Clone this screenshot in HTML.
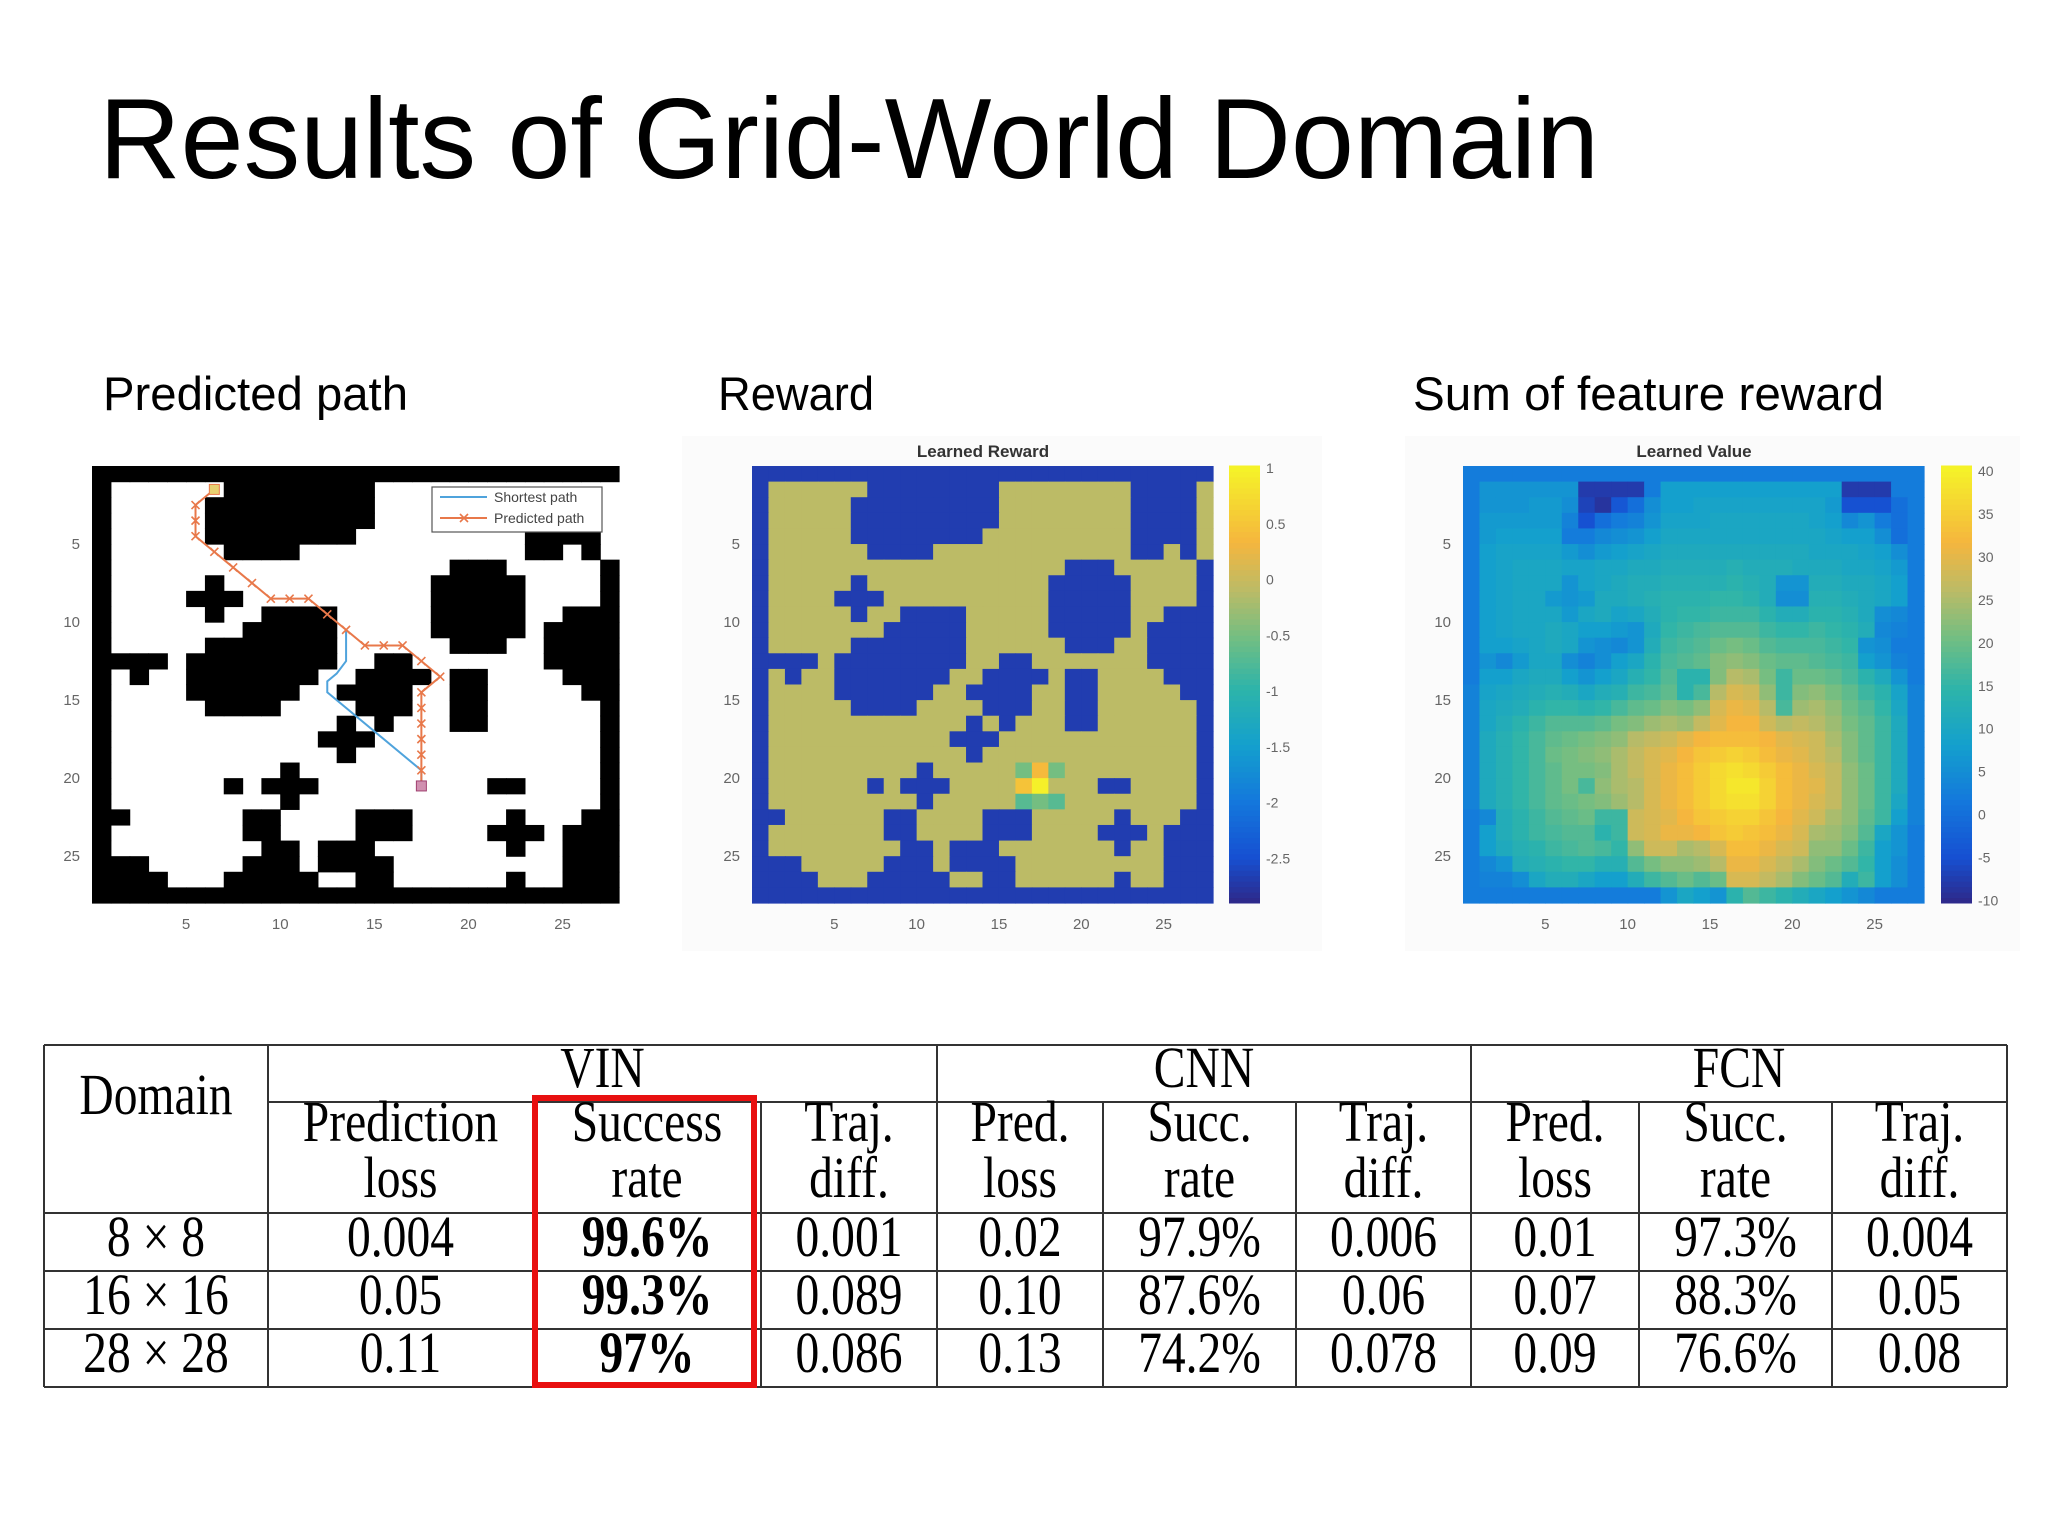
<!DOCTYPE html>
<html><head><meta charset="utf-8"><style>
html,body{margin:0;padding:0;background:#fff;}
svg{display:block;}
</style></head><body>
<svg id="root" width="2048" height="1536" viewBox="0 0 2048 1536" xmlns="http://www.w3.org/2000/svg">
<rect x="0" y="0" width="2048" height="1536" fill="#fff"/>
<text x="99" y="178" font-family="Liberation Sans, sans-serif" font-size="114" fill="#000" textLength="1500" lengthAdjust="spacingAndGlyphs">Results of Grid-World Domain</text>
<text x="103" y="410" font-family="Liberation Sans, sans-serif" font-size="47" fill="#000" textLength="305" lengthAdjust="spacingAndGlyphs">Predicted path</text>
<text x="718" y="410" font-family="Liberation Sans, sans-serif" font-size="47" fill="#000" textLength="156" lengthAdjust="spacingAndGlyphs">Reward</text>
<text x="1413" y="410" font-family="Liberation Sans, sans-serif" font-size="47" fill="#000" textLength="471" lengthAdjust="spacingAndGlyphs">Sum of feature reward</text>
<rect x="682" y="436" width="640" height="515" fill="#fbfbfb"/>
<rect x="1405" y="436" width="615" height="515" fill="#fbfbfb"/>
<g id="plots"></g>
<g id="table"></g>
</svg>
<script>
// ---- data ----
const obstacleMap = [
"############################",
"#......########.............",
"#.....#########.............",
"#.....#########.............",
"#.....########.........####.",
"#......####............##.#.",
"#..................###.....#",
"#.....#...........#####....#",
"#....###..........#####....#",
"#.....#..####.....#####..###",
"#.......#####.....#####.####",
"#.....#######......###..####",
"####.########..##.......####",
"#.#..#######..####.##....###",
"#....######..####..##.....##",
"#.....####....###..##......#",
"#............#.#...##......#",
"#...........###............#",
"#............#.............#",
"#.........#................#",
"#......#.###.........##....#",
"#.........#................#",
"##......##....###.....#...##",
"#.......##....###....###.###",
"#........##.###.......#..###",
"###.....###.####.........###",
"####...#####..##......#..###",
"############################"];
const rewardExtraObstacles = [[24,2],[25,2],[26,2],[27,2],[24,3],[25,3],[26,3],[27,3],[24,4],[25,4],[26,4],[27,4]];
const rewardSpots = [[18,21,1.0],[17,21,0.5],[18,20,0.4],[17,20,-0.5],[19,20,-0.5],[17,22,-0.7],[18,22,-0.5],[19,22,-0.7]];
const rewardObstacleValue = -2.7;
const rewardFreeValue = 0.0;
const predictedCols = [7,6,6,6,7,8,9,10,11,12,13,14,15,16,17,18,19,18,18,18,18,18,18,18,18];
const predictedRows = [2,3,4,5,6,7,8,9,9,9,10,11,12,12,12,13,14,15,16,17,18,19,20,21,21];
const shortestCols = [14,14,13.5,13,13,18,18];
const shortestRows = [11,13,13.8,14.3,15,20,21];
const axisTicks = [5,10,15,20,25];
const rewardTicks = [1,0.5,0,-0.5,-1,-1.5,-2,-2.5];
const valueTicks = [40,35,30,25,20,15,10,5,0,-5,-10];
const valueRows = [
"2 2 2 2 2 2 2 2 2 2 2 2 2 2 2 2 2 2 2 2 2 2 2 2 2 2 2 2",
"2 6 6 6 6 6 6 -8 -8 -8 -8 2 8 8 8 8 8 8 8 8 8 8 8 -8 -8 -8 2 2",
"2 6 6 6 7 7 5 -7 -9 -4 0 5 8 8 9 9 9 9 9 9 9 9 7 -5 -5 -5 0 2",
"2 7 7 7 7 7 3 -5 0 2 3 6 9 9 9 10 10 10 10 10 10 9 8 4 6 2 0 2",
"2 7 8 8 8 8 2 2 4 5 6 8 10 10 10 10 10 10 10 10 10 10 9 8 8 5 0 2",
"2 8 9 9 9 9 7 5 7 8 9 10 11 11 11 11 11 11 11 11 11 10 10 10 9 8 5 2",
"2 8 9 10 10 10 9 9 10 10 11 11 12 12 12 12 13 12 12 12 11 11 11 10 10 9 7 2",
"2 8 9 10 10 10 6 9 10 11 12 12 13 13 13 13 14 13 12 6 6 12 12 11 11 10 8 2",
"2 8 9 10 10 7 6 7 11 11 12 13 14 14 14 15 15 14 12 5 5 13 13 12 11 10 8 2",
"2 8 9 10 10 10 7 10 11 9 10 12 14 15 15 16 16 16 14 12 12 14 14 13 11 5 4 2",
"2 8 9 10 10 11 10 8 8 7 6 11 15 16 17 18 18 18 16 15 15 16 15 14 12 4 3 2",
"2 8 8 9 10 11 10 6 5 4 6 12 16 17 18 20 21 20 18 17 17 17 16 15 6 5 2 2",
"2 6 4 7 10 10 5 3 5 8 10 14 17 18 19 22 23 22 20 19 19 18 17 16 8 6 3 2",
"2 8 8 10 11 11 8 6 8 10 13 15 18 14 14 22 26 25 21 16 20 20 19 17 14 11 6 2",
"3 9 10 11 12 13 12 10 12 13 16 17 19 14 17 26 29 28 23 16 22 23 21 19 16 14 9 3",
"3 10 11 12 14 15 15 14 15 17 19 20 22 21 23 29 31 30 26 17 24 25 23 20 18 15 10 3",
"3 10 12 14 16 18 18 18 19 21 22 24 25 24 27 30 32 32 28 26 27 26 24 21 19 16 11 3",
"3 11 13 15 17 19 20 21 22 23 26 27 28 30 32 33 33 33 32 30 29 28 25 22 19 16 11 3",
"3 11 13 15 17 20 21 22 23 25 27 29 30 32 34 35 36 35 33 31 30 28 26 22 19 16 11 3",
"3 11 13 15 17 19 21 21 22 25 27 29 31 33 35 37 38 37 35 33 31 29 27 23 20 16 11 3",
"3 11 13 15 17 19 21 17 23 25 26 29 31 33 35 37 39 39 36 33 31 30 27 23 20 16 11 3",
"3 11 13 15 17 19 20 21 22 24 26 29 31 33 35 37 38 38 36 33 31 29 27 23 20 16 10 3",
"2 4 12 14 16 18 19 20 16 16 28 29 30 32 34 35 36 36 34 32 30 28 25 23 19 16 8 3",
"2 8 12 14 16 17 18 18 14 16 28 29 31 31 32 34 35 34 33 31 29 25 24 22 18 10 6 2",
"2 8 11 13 14 16 17 18 17 15 23 28 28 25 26 29 33 33 31 29 28 23 23 20 16 8 6 2",
"2 4 6 12 13 14 15 15 13 13 18 21 23 23 24 26 31 31 29 27 25 22 20 18 15 8 5 2",
"2 3 3 5 10 12 12 10 8 8 12 16 18 20 18 20 29 29 27 25 22 20 18 12 16 8 5 2",
"2 2 2 2 2 2 2 2 2 2 2 2 6 10 8 6 14 18 16 14 12 10 8 6 4 2 2 2"];
const headerGroups = ["VIN","CNN","FCN"];
const headerTop = ["Prediction","Success","Traj.","Pred.","Succ.","Traj.","Pred.","Succ.","Traj."];
const headerBottom = ["loss","rate","diff.","loss","rate","diff.","loss","rate","diff."];
const domains = ["8 × 8","16 × 16","28 × 28"];
const tableRows = [
["0.004","99.6%","0.001","0.02","97.9%","0.006","0.01","97.3%","0.004"],
["0.05","99.3%","0.089","0.10","87.6%","0.06","0.07","88.3%","0.05"],
["0.11","97%","0.086","0.13","74.2%","0.078","0.09","76.6%","0.08"]];

// ---- helpers ----
const NS="http://www.w3.org/2000/svg";
function mk(tag, attrs, parent){const e=document.createElementNS(NS,tag);for(const k in attrs)e.setAttribute(k,attrs[k]);parent.appendChild(e);return e;}
const anchors=[[0,[45,42,140]],[0.1,[22,80,210]],[0.23,[20,120,220]],[0.36,[20,160,205]],[0.49,[45,180,170]],[0.61,[115,190,130]],[0.72,[188,187,102]],[0.83,[245,182,62]],[1,[245,242,40]]];
function parula(t){t=Math.max(0,Math.min(1,t));for(let i=1;i<anchors.length;i++){if(t<=anchors[i][0]){const a=anchors[i-1],b=anchors[i];const f=(t-a[0])/(b[0]-a[0]);const c=a[1].map((v,j)=>Math.round(v+(b[1][j]-v)*f));return `rgb(${c[0]},${c[1]},${c[2]})`;}}return 'rgb(245,242,40)';}
function axes(x0,x1,y0,y1){return {sx:c=>x0+(c-0.5)*(x1-x0)/28, sy:r=>y0+(r-0.5)*(y1-y0)/28, cw:(x1-x0)/28, ch:(y1-y0)/28, x0,x1,y0,y1};}
const plots=document.getElementById('plots');

function ticks(ax,g){
  axisTicks.forEach(v=>{
    const t=mk('text',{x:ax.x0-12,y:ax.sy(v+0.5)+5,'font-family':'Liberation Sans, sans-serif','font-size':15,fill:'#666','text-anchor':'end'},g);
    t.textContent=v;
    
    
    const u=mk('text',{x:ax.sx(v+0.5),y:ax.y1+26,'font-family':'Liberation Sans, sans-serif','font-size':15,fill:'#666','text-anchor':'middle'},g);
    u.textContent=v;
    
    
  });
}

// ---- plot 1 : predicted path ----
(function(){
  const ax=axes(92,619,466,903);
  const g=mk('g',{},plots);
  
  
  mk('rect',{x:ax.x0,y:ax.y0,width:ax.x1-ax.x0,height:ax.y1-ax.y0,fill:'#fff'},g);
  obstacleMap.forEach((row,ri)=>{for(let ci=0;ci<28;ci++){if(row[ci]==='#'){
    const r=mk('rect',{x:ax.sx(ci+1)-ax.cw/2,y:ax.sy(ri+1)-ax.ch/2,width:ax.cw+0.6,height:ax.ch+0.6,fill:'#000'},g);
    
    
  }}});
  const sp=mk('polyline',{points:shortestCols.map((c,i)=>ax.sx(c)+','+ax.sy(shortestRows[i])).join(' '),fill:'none',stroke:'#4fa3dc','stroke-width':2},g);
  
  
  const pp=mk('polyline',{points:predictedCols.map((c,i)=>ax.sx(c)+','+ax.sy(predictedRows[i])).join(' '),fill:'none',stroke:'#e8784a','stroke-width':2},g);
  
  
  predictedCols.forEach((c,i)=>{const x=ax.sx(c),y=ax.sy(predictedRows[i]);
    const m=mk('path',{d:`M${x-4},${y-4}L${x+4},${y+4}M${x-4},${y+4}L${x+4},${y-4}`,stroke:'#e8784a','stroke-width':1.6},g);
    
    
  });
  const st=mk('rect',{x:ax.sx(7)-5,y:ax.sy(2)-5,width:10,height:10,fill:'#e8d070',stroke:'#e8784a'},g);
  
  
  const en=mk('rect',{x:ax.sx(18)-5,y:ax.sy(21)-5,width:10,height:10,fill:'#d090b0',stroke:'#a04070'},g);
  
  
  const lg=mk('g',{},g);
  
  
  mk('rect',{x:432,y:487,width:170,height:45,fill:'#fff',stroke:'#555','stroke-width':1.2},lg);
  mk('line',{x1:440,y1:497,x2:487,y2:497,stroke:'#4fa3dc','stroke-width':2},lg);
  mk('line',{x1:440,y1:518,x2:487,y2:518,stroke:'#e8784a','stroke-width':2},lg);
  mk('path',{d:'M460,514L468,522M460,522L468,514',stroke:'#e8784a','stroke-width':1.6},lg);
  const l1=mk('text',{x:494,y:502,'font-family':'Liberation Sans, sans-serif','font-size':14,fill:'#444'},lg);l1.textContent='Shortest path';
  
  
  const l2=mk('text',{x:494,y:523,'font-family':'Liberation Sans, sans-serif','font-size':14,fill:'#444'},lg);l2.textContent='Predicted path';
  
  
  ticks(ax,g);
})();

// ---- plot 2 : learned reward ----
(function(){
  const ax=axes(752,1213,466,903);
  const vmin=-2.9,vmax=1.02;
  const g=mk('g',{},plots);
  
  
  const extra=new Set(rewardExtraObstacles.map(p=>p[0]+','+p[1]));
  const spots={};rewardSpots.forEach(s=>spots[s[0]+','+s[1]]=s[2]);
  obstacleMap.forEach((row,ri)=>{for(let ci=0;ci<28;ci++){
    const key=(ci+1)+','+(ri+1);
    let v=(row[ci]==='#'||extra.has(key))?rewardObstacleValue:rewardFreeValue;
    if(key in spots)v=spots[key];
    const r=mk('rect',{x:ax.sx(ci+1)-ax.cw/2,y:ax.sy(ri+1)-ax.ch/2,width:ax.cw+0.6,height:ax.ch+0.6,fill:v===rewardFreeValue?'rgb(188,187,102)':parula((v-vmin)/(vmax-vmin))},g);
    
    
  }});
  const t=mk('text',{x:983,y:457,'font-family':'Liberation Sans, sans-serif','font-size':17,'font-weight':'bold',fill:'#333','text-anchor':'middle'},g);
  t.textContent='Learned Reward';
  
  
  ticks(ax,g);
  const cb=mk('g',{},plots);
  
  
  const cy=v=>903-(v-vmin)/(vmax-vmin)*437;
  for(let i=0;i<80;i++){const v0=vmin+(vmax-vmin)*i/80;mk('rect',{x:1229,y:cy(v0+(vmax-vmin)/80)-0.5,width:31,height:437/80+1,fill:parula(i/79)},cb);}
  rewardTicks.forEach(v=>{const l=mk('text',{x:1266,y:cy(v)+5,'font-family':'Liberation Sans, sans-serif','font-size':14,fill:'#666'},cb);l.textContent=v;
    
    });
})();

// ---- plot 3 : learned value ----
(function(){
  const ax=axes(1463,1924,466,903);
  const vmin=-10.3,vmax=40.6;
  const g=mk('g',{},plots);
  
  
  valueRows.forEach((row,ri)=>{row.split(' ').map(Number).forEach((v,ci)=>{
    const r=mk('rect',{x:ax.sx(ci+1)-ax.cw/2,y:ax.sy(ri+1)-ax.ch/2,width:ax.cw+0.6,height:ax.ch+0.6,fill:parula((v-vmin)/(vmax-vmin))},g);
    
    
  });});
  const t=mk('text',{x:1694,y:457,'font-family':'Liberation Sans, sans-serif','font-size':17,'font-weight':'bold',fill:'#333','text-anchor':'middle'},g);
  t.textContent='Learned Value';
  
  
  ticks(ax,g);
  const cb=mk('g',{},plots);
  
  
  const cy=v=>903-(v-vmin)/(vmax-vmin)*437;
  for(let i=0;i<80;i++){const v0=vmin+(vmax-vmin)*i/80;mk('rect',{x:1941,y:cy(v0+(vmax-vmin)/80)-0.5,width:31,height:437/80+1,fill:parula(i/79)},cb);}
  valueTicks.forEach(v=>{const l=mk('text',{x:1978,y:cy(v)+5,'font-family':'Liberation Sans, sans-serif','font-size':14,fill:'#666'},cb);l.textContent=v;
    
    });
})();

// ---- table ----
(function(){
  const tb=document.getElementById('table');
  
  
  const cols=[44,268,533,761,937,1103,1296,1471,1639,1832,2007];
  const ln=(x1,y1,x2,y2)=>mk('line',{x1,y1,x2,y2,stroke:'#333','stroke-width':2},tb);
  ln(44,1045,2007,1045);ln(268,1102,2007,1102);
  [1213,1271,1329,1387].forEach(y=>ln(44,y,2007,y));
  ln(44,1045,44,1387);ln(268,1045,268,1387);ln(937,1045,937,1387);ln(1471,1045,1471,1387);ln(2007,1045,2007,1387);
  [533,761,1103,1296,1639,1832].forEach(x=>ln(x,1102,x,1387));
  function txt(s,cx,base,name,bold){
    const t=mk('text',{x:0,y:0,transform:`translate(${cx},${base}) scale(0.82,1)`,'font-family':'Liberation Serif, serif','font-size':58,fill:'#000','text-anchor':'middle','font-weight':bold?'bold':'normal'},tb);
    t.textContent=s;
    
    
  }
  txt('Domain',156,1114,'domain-header');
  const gx=[[268,937],[937,1471],[1471,2007]];
  headerGroups.forEach((h,i)=>txt(h,(gx[i][0]+gx[i][1])/2,1087,'group-header'));
  headerTop.forEach((h,i)=>{const cx=(cols[i+1]+cols[i+2])/2;txt(h,cx,1141,'column-header');txt(headerBottom[i],cx,1197,'column-header');});
  const bases=[1256,1314,1372];
  domains.forEach((d,r)=>{txt(d,156,bases[r],'domain-label');
    tableRows[r].forEach((v,i)=>txt(v,(cols[i+1]+cols[i+2])/2,bases[r],'table-value',i===1));});
  const hb=mk('rect',{x:535,y:1098,width:219,height:287,fill:'none',stroke:'#e81010','stroke-width':6},tb);
  
  
})();
</script>
</body></html>
